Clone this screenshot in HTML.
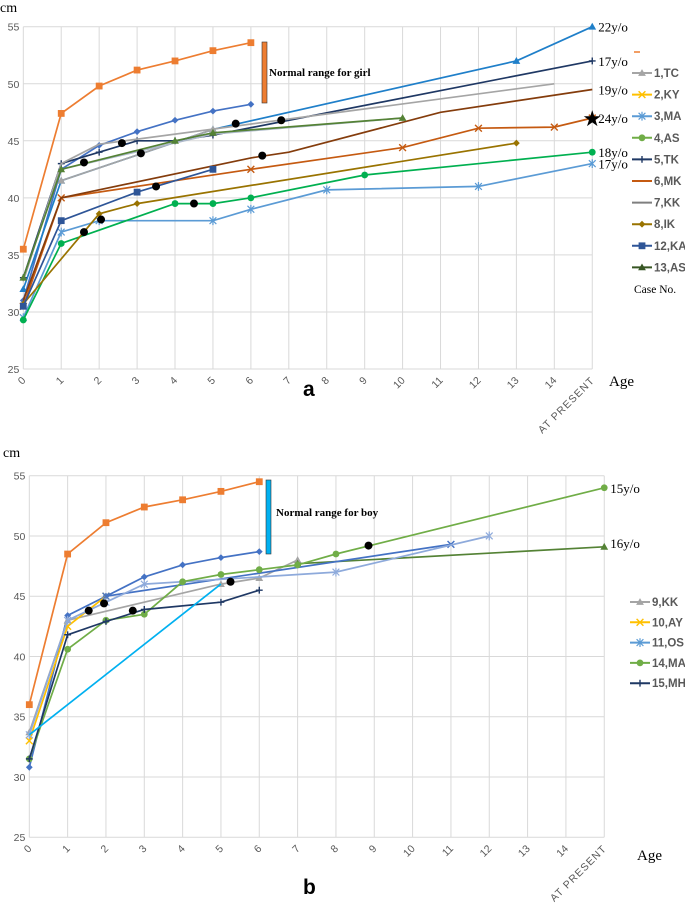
<!DOCTYPE html>
<html><head><meta charset="utf-8"><style>
body{margin:0;background:#fff;}
svg{display:block;}
.tk{font-family:"Liberation Sans",sans-serif;font-size:10.5px;fill:#595959;}
.lg{font-family:"Liberation Sans",sans-serif;font-size:11.5px;font-weight:bold;fill:#595959;}
.sr{font-family:"Liberation Serif",serif;fill:#000;}
</style></head><body>
<svg id="chart" width="685" height="911" viewBox="0 0 685 911" xmlns="http://www.w3.org/2000/svg"></svg>
<script>
// ---- data ----
const xCategories = ["0","1","2","3","4","5","6","7","8","9","10","11","12","13","14","AT PRESENT"];
const yTicks = [25,30,35,40,45,50,55];
// chart a (girls)
const girlNames = ["normal-upper","normal-lower","1,TC","1,TC-b","2,KY","3,MA","4,AS","5,TK","6,MK","7,KK","8,IK","12,KA","13,AS","13,AS-b"];
const girlColors = ["#ed7d31","#4472c4","#1f7fc9","#a5a5a5","#c55a11","#5b9bd5","#00b050","#1f3864","#843c0c","#a5a5a5","#997300","#2e5597","#adb9ca","#548235"];
const girlMarkers = ["square","diamond","triangle","triangle","x","star","circle","plus","none","none","diamond","square","none","triangle"];
const girlValues = [
 [[0,35.5],[1,47.4],[2,49.8],[3,51.2],[4,52],[5,52.9],[6,53.6]],
 [[0,31],[1,42.5],[2,44.6],[3,45.8],[4,46.8],[5,47.6],[6,48.2]],
 [[0,32],[1,41.5],[5,46],[13,52],[15,55]],
 [[1,41.5],[5,46]],
 [[0,30.5],[1,40],[6,42.5],[10,44.4],[12,46.1],[14,46.2],[15,47]],
 [[0,29.5],[1,37],[2,38],[5,38],[6,39],[8,40.7],[12,41],[15,43]],
 [[0,29.3],[1,36],[4,39.5],[5,39.5],[6,40],[9,42],[15,44]],
 [[0,33],[1,43],[2,44],[3,45],[4,45],[5,45.5],[15,52]],
 [[0,31],[1,40],[6,43.5],[7,44],[11,47.5],[15,49.5]],
 [[0,32.7],[1,43],[2,44.7],[14,50]],
 [[0,30.7],[2,38.6],[3,39.5],[13,44.8]],
 [[0,30.5],[1,38],[3,40.5],[5,42.5]],
 [[1,42.5],[5,45.6],[10,47]],
 [[0,33],[1,42.5],[4,45],[5,45.7],[10,47]]
];
const girlDotsX = [1.6,2.6,3.1,3.5,1.6,2.05,4.5,5.6,6.3,6.8];
const girlDotsY = [43.1,44.8,43.9,41,37,38.1,39.5,46.5,43.7,46.8];
const girlLegend = ["1,TC","2,KY","3,MA","4,AS","5,TK","6,MK","7,KK","8,IK","12,KA","13,AS"];
const girlLegendColors = ["#a5a5a5","#ffc000","#5b9bd5","#70ad47","#1f3864","#c55a11","#7f7f7f","#997300","#2e5597","#375623"];
const girlLegendMarkers = ["triangle","x","star","circle","plus","none","none","diamond","square","triangle"];
const girlAges = ["22y/o","17y/o","19y/o","24y/o","18y/o","17y/o"];
const girlAgeVals = [55,52,49.5,47,44,43];
// chart b (boys)
const boyNames = ["normal-upper","normal-lower","9,KK","9,KK-b","10,AY","10,AY-b","11,OS","14,MA","15,MH","cyan"];
const boyColors = ["#ed7d31","#4472c4","#a5a5a5","#548235","#ffc000","#4472c4","#8eaadb","#70ad47","#1f3864","#00b0f0"];
const boyMarkers = ["square","diamond","triangle","triangle","x","x","star","circle","plus","none"];
const boyValues = [
 [[0,36],[1,48.5],[2,51.1],[3,52.4],[4,53],[5,53.7],[6,54.5]],
 [[0,30.8],[1,43.4],[2,45],[3,46.6],[4,47.6],[5,48.2],[6,48.7]],
 [[0,33.7],[1,43],[5,46],[6,46.5],[7,48]],
 [[7,47.7],[15,49.1]],
 [[0,33],[1,42.5],[2,45]],
 [[2,45],[11,49.3]],
 [[0,33.5],[1,43],[2,44.5],[3,46],[8,47],[12,50]],
 [[0,31.5],[1,40.6],[2,43],[3,43.5],[4,46.2],[5,46.8],[6,47.2],[7,47.6],[8,48.5],[15,54]],
 [[0,31.5],[1,41.8],[2,42.9],[3,43.9],[5,44.5],[6,45.5]],
 [[0,33.5],[5,46]]
];
const boyDotsX = [1.55,1.95,2.7,5.25,8.85];
const boyDotsY = [43.8,44.4,43.8,46.2,49.2];
const boyLegend = ["9,KK","10,AY","11,OS","14,MA","15,MH"];
const boyLegendColors = ["#a5a5a5","#ffc000","#5b9bd5","#70ad47","#1f3864"];
const boyLegendMarkers = ["triangle","x","star","circle","plus"];
const boyAges = ["15y/o","16y/o"];
const boyAgeVals = [54,49.4];

const svg = document.getElementById('chart');
const NS = "http://www.w3.org/2000/svg";
function mk(tag, attrs, parent){const e=document.createElementNS(NS,tag);for(const k in attrs)e.setAttribute(k,attrs[k]);(parent||svg).appendChild(e);return e;}

function marker(g,type,x,y,c){
  let e; const s=3.4;
  if(type==="square"){e=mk('rect',{x:x-s,y:y-s,width:2*s,height:2*s,fill:c},g);}
  else if(type==="diamond"){e=mk('polygon',{points:`${x},${y-s} ${x+s},${y} ${x},${y+s} ${x-s},${y}`,fill:c},g);}
  else if(type==="triangle"){e=mk('polygon',{points:`${x},${y-s-0.5} ${x+s+0.5},${y+s-0.5} ${x-s-0.5},${y+s-0.5}`,fill:c},g);}
  else if(type==="circle"){e=mk('circle',{cx:x,cy:y,r:s,fill:c},g);}
  else if(type==="x"){e=mk('path',{d:`M${x-s} ${y-s}L${x+s} ${y+s}M${x+s} ${y-s}L${x-s} ${y+s}`,stroke:c,'stroke-width':1.4},g);}
  else if(type==="plus"){e=mk('path',{d:`M${x-s} ${y}L${x+s} ${y}M${x} ${y-s}L${x} ${y+s}`,stroke:c,'stroke-width':1.4},g);}
  else if(type==="star"){e=mk('path',{d:`M${x-s} ${y-s}L${x+s} ${y+s}M${x+s} ${y-s}L${x-s} ${y+s}M${x} ${y-s-1}L${x} ${y+s+1}`,stroke:c,'stroke-width':1.2},g);}
  if(e){}
}

function drawChart(cfg){
  const X = i => cfg.x0 + i*cfg.dx;
  const Y = v => cfg.yTop + (55-v)*cfg.dy;
  const g = mk('g',{});
  
  
  for(const t of yTicks){
    const l=mk('line',{x1:X(0),x2:X(15),y1:Y(t),y2:Y(t),stroke:'#d9d9d9','stroke-width':1},g);
    
    const tx=mk('text',{x:X(0)-4,y:Y(t)+4,'text-anchor':'end',class:'tk'},g);tx.textContent=t;
    
  }
  xCategories.forEach((c,i)=>{
    const l=mk('line',{x1:X(i),x2:X(i),y1:Y(55),y2:Y(25),stroke:'#d9d9d9','stroke-width':1},g);
    
    const tx=mk('text',{x:X(i)+3,y:Y(25)+12,'text-anchor':'end',class:'tk',transform:`rotate(-45 ${X(i)+3} ${Y(25)+12})`,'letter-spacing':c.length>3?'1':'0'},g);
    tx.textContent=c;
    
  });
  cfg.values.forEach((pts,si)=>{
    const sg=mk('g',{},g);
    
    
    const d=pts.map((p,k)=>(k?'L':'M')+X(p[0]).toFixed(1)+' '+Y(p[1]).toFixed(1)).join('');
    mk('path',{d:d,fill:'none',stroke:cfg.colors[si],'stroke-width':1.7},sg);
    pts.forEach(p=>marker(sg,cfg.markers[si],X(p[0]),Y(p[1]),cfg.colors[si]));
  });
  cfg.dotsX.forEach((dx,i)=>{
    const c=mk('circle',{cx:X(dx),cy:Y(cfg.dotsY[i]),r:4,fill:'#000'},g);
    
  });
  cfg.ages.forEach((a,i)=>{
    const t=mk('text',{x:X(15)+6,y:Y(cfg.ageVals[i])+5,class:'sr','font-size':'13'},g);
    t.textContent=a;
    
  });
  cfg.legend.forEach((n,i)=>{
    const y=cfg.legY+i*cfg.legDy;
    const lg=mk('g',{},g);
    
    mk('line',{x1:cfg.legX,x2:cfg.legX+20,y1:y,y2:y,stroke:cfg.legColors[i],'stroke-width':2},lg);
    marker(lg,cfg.legMarkers[i],cfg.legX+10,y,cfg.legColors[i]);
    const t=mk('text',{x:cfg.legX+22,y:y+4,class:'lg'},lg);t.textContent=n;
  });
  return {X,Y,g};
}

const A = drawChart({name:'chart-a',x0:23.3,dx:37.93,yTop:26.7,dy:11.41,values:girlValues,names:girlNames,colors:girlColors,markers:girlMarkers,dotsX:girlDotsX,dotsY:girlDotsY,ages:girlAges,ageVals:girlAgeVals,legend:girlLegend,legColors:girlLegendColors,legMarkers:girlLegendMarkers,legX:632,legY:73,legDy:21.6});
const B = drawChart({name:'chart-b',x0:29.3,dx:38.33,yTop:475.7,dy:12.05,values:boyValues,names:boyNames,colors:boyColors,markers:boyMarkers,dotsX:boyDotsX,dotsY:boyDotsY,ages:boyAges,ageVals:boyAgeVals,legend:boyLegend,legColors:boyLegendColors,legMarkers:boyLegendMarkers,legX:630,legY:602,legDy:20.3});

const st=mk('text',{x:A.X(15),y:A.Y(47)+8,'text-anchor':'middle','font-size':'22',fill:'#000','font-family':'DejaVu Sans,sans-serif'});
st.textContent='★';


const cut=mk('line',{x1:634,x2:640,y1:52,y2:52,stroke:'#ed7d31','stroke-width':1.5});



function addText(txt,attrs,name){const t=mk('text',attrs);t.textContent=txt;return t;}
const r1=mk('rect',{x:262,y:42,width:5,height:61,fill:'#ed7d31',stroke:'#333','stroke-width':0.6});


addText('Normal range for girl',{x:269,y:76,class:'sr','font-size':'11','font-weight':'bold'},'normal-range-label-girl');
const r2=mk('rect',{x:266,y:480,width:5,height:74,fill:'#00b0f0',stroke:'#333','stroke-width':0.6});


addText('Normal range for boy',{x:276,y:516,class:'sr','font-size':'11','font-weight':'bold'},'normal-range-label-boy');

addText('cm',{x:0,y:12,class:'sr','font-size':'14'},'y-axis-title-a');
addText('cm',{x:3,y:457,class:'sr','font-size':'14'},'y-axis-title-b');
addText('Age',{x:609,y:386,class:'sr','font-size':'15'},'x-axis-title-a');
addText('Age',{x:637,y:860,class:'sr','font-size':'15'},'x-axis-title-b');
addText('a',{x:303,y:396,'font-family':'Liberation Sans,sans-serif','font-size':'21','font-weight':'bold'},'panel-label-a');
addText('b',{x:303,y:894,'font-family':'Liberation Sans,sans-serif','font-size':'21','font-weight':'bold'},'panel-label-b');
addText('Case No.',{x:634,y:293,class:'sr','font-size':'11.5'},'legend-title-a');
</script>
</body></html>
